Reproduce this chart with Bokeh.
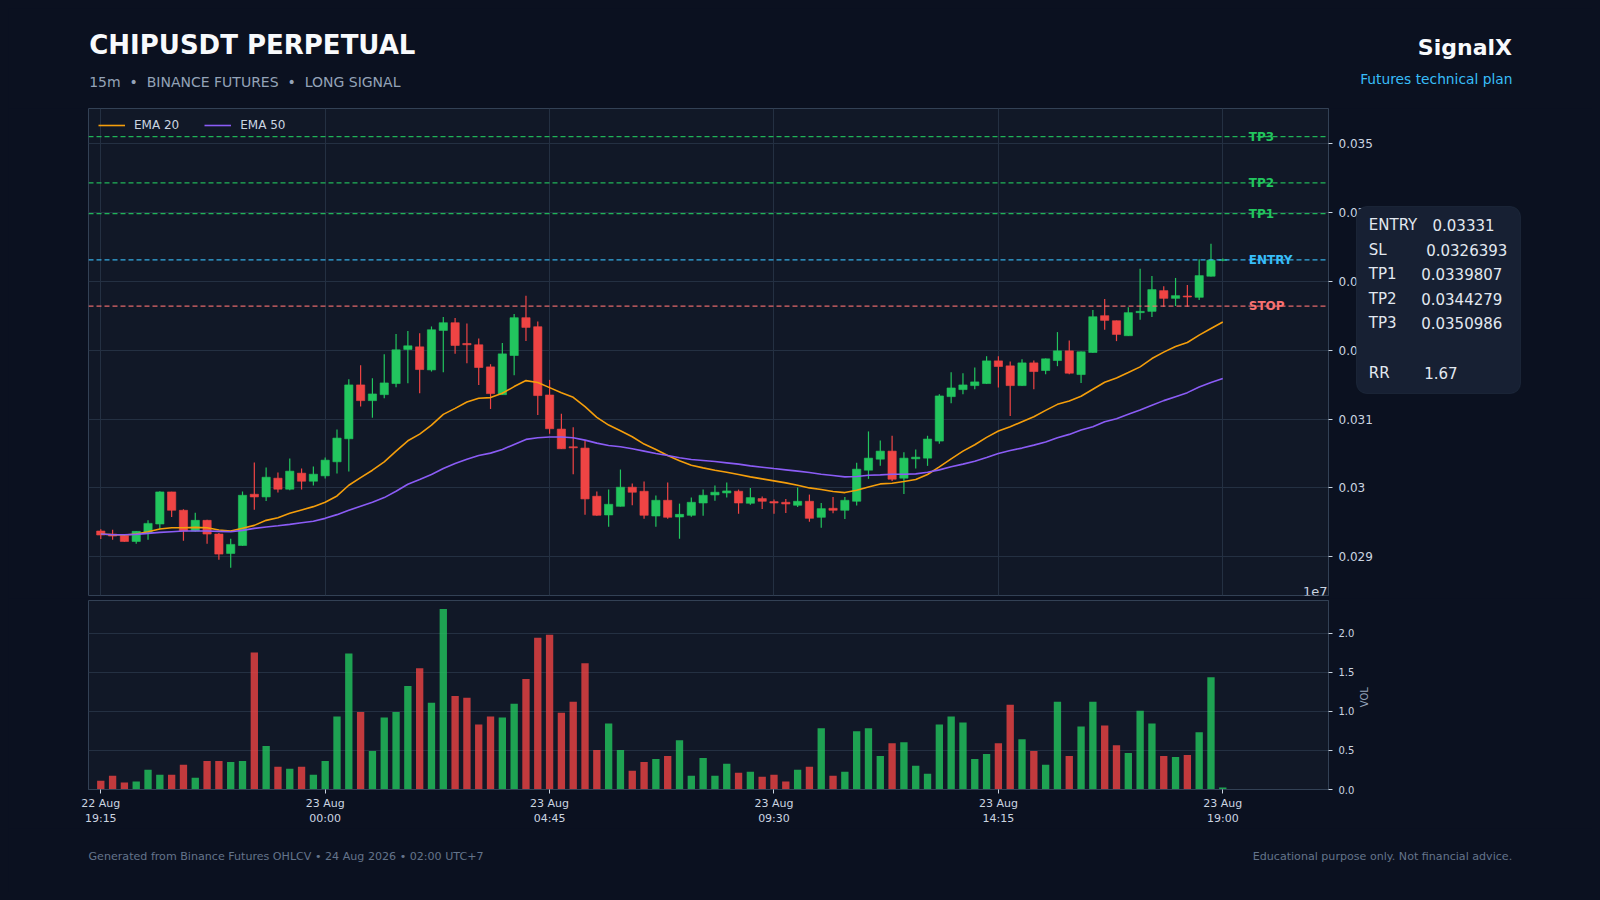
import math
from bokeh.plotting import figure
from bokeh.models import (Range1d, FixedTicker, NumeralTickFormatter, Span, Label,
                          BoxAnnotation, Grid, ColumnDataSource)
from bokeh.layouts import column, row
from bokeh.embed import file_html
from bokeh.resources import INLINE
from bokeh.core.properties import value

# ---------------- data ----------------
opens = [0.029374, 0.029330, 0.029306, 0.029223, 0.029350, 0.029476, 0.029942, 0.029675, 0.029374, 0.029529,
         0.029330, 0.029049, 0.029165, 0.029908, 0.029869, 0.030141, 0.029981, 0.030214, 0.030097, 0.030175,
         0.030379, 0.030713, 0.031495, 0.031267, 0.031354, 0.031515, 0.032010, 0.032048, 0.031713, 0.032286,
         0.032398, 0.032097, 0.032078, 0.031757, 0.031354, 0.031922, 0.032471, 0.032340, 0.031349, 0.030854,
         0.030597, 0.030578, 0.029879, 0.029607, 0.029733, 0.030010, 0.029951, 0.029592, 0.029820, 0.029578,
         0.029602, 0.029781, 0.029898, 0.029927, 0.029951, 0.029777, 0.029845, 0.029801, 0.029791, 0.029748,
         0.029806, 0.029573, 0.029704, 0.029675, 0.029806, 0.030257, 0.030417, 0.030534, 0.030141, 0.030422,
         0.030432, 0.030680, 0.031325, 0.031427, 0.031485, 0.031515, 0.031844, 0.031772, 0.031485, 0.031815,
         0.031704, 0.031849, 0.031990, 0.031645, 0.031966, 0.032500, 0.032427, 0.032209, 0.032544, 0.032563,
         0.032864, 0.032752, 0.032786, 0.032767, 0.033073, 0.033306]
highs = [0.029398, 0.029393, 0.029310, 0.029374, 0.029529, 0.029951, 0.029945, 0.029689, 0.029641, 0.029539,
         0.029345, 0.029262, 0.029947, 0.030369, 0.030296, 0.030223, 0.030427, 0.030282, 0.030311, 0.030442,
         0.030849, 0.031578, 0.031781, 0.031592, 0.031942, 0.032233, 0.032277, 0.032247, 0.032344, 0.032480,
         0.032466, 0.032388, 0.032170, 0.031796, 0.032102, 0.032524, 0.032791, 0.032417, 0.031568, 0.031078,
         0.030879, 0.030680, 0.029947, 0.029976, 0.030267, 0.030063, 0.030092, 0.029888, 0.030078, 0.029772,
         0.029859, 0.029976, 0.030034, 0.030078, 0.029976, 0.030000, 0.029874, 0.029830, 0.029840, 0.030005,
         0.029903, 0.029781, 0.029869, 0.029869, 0.030364, 0.030820, 0.030689, 0.030757, 0.030519, 0.030558,
         0.030757, 0.031359, 0.031680, 0.031665, 0.031747, 0.031912, 0.031912, 0.031835, 0.031869, 0.031849,
         0.031878, 0.032262, 0.032141, 0.031980, 0.032582, 0.032742, 0.032430, 0.032621, 0.033180, 0.033078,
         0.032927, 0.033048, 0.032946, 0.033320, 0.033543, 0.033330]
lows = [0.029257, 0.029248, 0.029220, 0.029189, 0.029248, 0.029403, 0.029578, 0.029233, 0.029364, 0.029189,
        0.028956, 0.028840, 0.029160, 0.029684, 0.029811, 0.029932, 0.029966, 0.029976, 0.030034, 0.030136,
        0.030209, 0.030238, 0.031180, 0.031019, 0.031301, 0.031461, 0.031519, 0.031374, 0.031689, 0.031680,
        0.031946, 0.031811, 0.031495, 0.031146, 0.031350, 0.031636, 0.032131, 0.031058, 0.030786, 0.030565,
        0.030199, 0.029612, 0.029597, 0.029437, 0.029730, 0.029748, 0.029553, 0.029437, 0.029553, 0.029262,
        0.029582, 0.029597, 0.029815, 0.029859, 0.029626, 0.029757, 0.029694, 0.029626, 0.029636, 0.029723,
        0.029510, 0.029422, 0.029631, 0.029549, 0.029743, 0.030131, 0.030320, 0.030102, 0.029913, 0.030281,
        0.030320, 0.030641, 0.031228, 0.031359, 0.031432, 0.031510, 0.031456, 0.031044, 0.031480, 0.031432,
        0.031650, 0.031767, 0.031650, 0.031524, 0.031962, 0.032296, 0.032131, 0.032205, 0.032442, 0.032480,
        0.032631, 0.032641, 0.032631, 0.032728, 0.033070, 0.033290]
closes = [0.029316, 0.029301, 0.029223, 0.029369, 0.029485, 0.029942, 0.029675, 0.029374, 0.029529, 0.029330,
          0.029039, 0.029180, 0.029893, 0.029869, 0.030155, 0.029981, 0.030243, 0.030097, 0.030199, 0.030403,
          0.030723, 0.031495, 0.031267, 0.031364, 0.031524, 0.032005, 0.032063, 0.031718, 0.032296, 0.032398,
          0.032068, 0.032078, 0.031748, 0.031369, 0.031946, 0.032471, 0.032330, 0.031340, 0.030859, 0.030568,
          0.030582, 0.029840, 0.029602, 0.029762, 0.030010, 0.029937, 0.029602, 0.029820, 0.029573, 0.029616,
          0.029791, 0.029893, 0.029937, 0.029956, 0.029781, 0.029859, 0.029806, 0.029781, 0.029767, 0.029806,
          0.029558, 0.029699, 0.029675, 0.029820, 0.030272, 0.030432, 0.030534, 0.030126, 0.030432, 0.030446,
          0.030709, 0.031335, 0.031451, 0.031495, 0.031539, 0.031844, 0.031762, 0.031485, 0.031815, 0.031689,
          0.031874, 0.031990, 0.031665, 0.031976, 0.032485, 0.032432, 0.032228, 0.032544, 0.032563, 0.032879,
          0.032752, 0.032791, 0.032772, 0.033082, 0.033306, 0.033310]
volume_1e7 = [0.113, 0.176, 0.088, 0.101, 0.252, 0.189, 0.189, 0.315, 0.151, 0.366,
              0.366, 0.353, 0.366, 1.752, 0.555, 0.290, 0.265, 0.290, 0.189, 0.366,
              0.933, 1.739, 0.992, 0.492, 0.920, 0.992, 1.324, 1.550, 1.109, 2.307,
              1.197, 1.172, 0.832, 0.933, 0.920, 1.097, 1.412, 1.941, 1.979, 0.983,
              1.122, 1.613, 0.504, 0.845, 0.504, 0.239, 0.353, 0.391, 0.429, 0.630,
              0.176, 0.403, 0.176, 0.328, 0.214, 0.227, 0.164, 0.189, 0.101, 0.252,
              0.290, 0.782, 0.176, 0.227, 0.744, 0.782, 0.429, 0.592, 0.605, 0.303,
              0.202, 0.832, 0.933, 0.857, 0.391, 0.454, 0.592, 1.084, 0.643, 0.492,
              0.315, 1.122, 0.429, 0.807, 1.122, 0.819, 0.567, 0.466, 1.008, 0.845,
              0.429, 0.416, 0.441, 0.731, 1.437, 0.025]
ema20 = [0.029330, 0.029320, 0.029316, 0.029330, 0.029364, 0.029403, 0.029422, 0.029422, 0.029427, 0.029422,
         0.029388, 0.029374, 0.029413, 0.029456, 0.029529, 0.029568, 0.029631, 0.029680, 0.029728, 0.029791,
         0.029883, 0.030039, 0.030150, 0.030257, 0.030379, 0.030534, 0.030684, 0.030781, 0.030912, 0.031068,
         0.031155, 0.031247, 0.031301, 0.031311, 0.031374, 0.031471, 0.031558, 0.031529, 0.031456, 0.031383,
         0.031315, 0.031179, 0.031024, 0.030912, 0.030830, 0.030743, 0.030636, 0.030558, 0.030471, 0.030393,
         0.030330, 0.030291, 0.030257, 0.030228, 0.030194, 0.030160, 0.030131, 0.030102, 0.030073, 0.030039,
         0.030000, 0.029976, 0.029947, 0.029932, 0.029966, 0.030014, 0.030058, 0.030068, 0.030092, 0.030121,
         0.030194, 0.030306, 0.030422, 0.030534, 0.030626, 0.030733, 0.030825, 0.030888, 0.030961, 0.031034,
         0.031126, 0.031213, 0.031262, 0.031330, 0.031432, 0.031534, 0.031597, 0.031675, 0.031757, 0.031878,
         0.031971, 0.032053, 0.032111, 0.032218, 0.032315, 0.032408]
ema50 = [0.029330, 0.029320, 0.029320, 0.029325, 0.029340, 0.029354, 0.029364, 0.029374, 0.029374, 0.029374,
         0.029369, 0.029364, 0.029383, 0.029413, 0.029432, 0.029451, 0.029471, 0.029495, 0.029515, 0.029558,
         0.029612, 0.029675, 0.029733, 0.029791, 0.029859, 0.029951, 0.030053, 0.030121, 0.030194, 0.030281,
         0.030354, 0.030417, 0.030471, 0.030505, 0.030558, 0.030631, 0.030704, 0.030728, 0.030738, 0.030738,
         0.030728, 0.030694, 0.030650, 0.030616, 0.030597, 0.030568, 0.030534, 0.030500, 0.030471, 0.030437,
         0.030413, 0.030398, 0.030383, 0.030364, 0.030345, 0.030320, 0.030301, 0.030281, 0.030262, 0.030243,
         0.030223, 0.030199, 0.030180, 0.030160, 0.030165, 0.030184, 0.030189, 0.030199, 0.030199, 0.030204,
         0.030228, 0.030262, 0.030306, 0.030345, 0.030388, 0.030442, 0.030500, 0.030544, 0.030578, 0.030621,
         0.030665, 0.030728, 0.030777, 0.030840, 0.030888, 0.030961, 0.031005, 0.031068, 0.031131, 0.031199,
         0.031267, 0.031325, 0.031383, 0.031466, 0.031529, 0.031587]

xtick_index = [0, 19, 38, 57, 76, 95]
xtick_labels = ["22 Aug\n19:15", "23 Aug\n00:00", "23 Aug\n04:45",
                "23 Aug\n09:30", "23 Aug\n14:15", "23 Aug\n19:00"]
price_ticks = [0.029, 0.030, 0.031, 0.032, 0.033, 0.034, 0.035]
volume_ticks = [0.0, 0.5, 1.0, 1.5, 2.0]

entry = 0.03331
stop_loss = 0.0326393
tp1 = 0.0339807
tp2 = 0.0344279
tp3 = 0.0350986
rr = 1.67
level_names = ["TP3", "TP2", "TP1", "ENTRY", "STOP"]
level_values = [tp3, tp2, tp1, entry, stop_loss]
info_names = ["ENTRY", "SL", "TP1", "TP2", "TP3", "RR"]
info_values = [str(entry), str(stop_loss), str(tp1), str(tp2), str(tp3), "%.2f" % rr]

title_text = "CHIPUSDT PERPETUAL"
subtitle_text = "15m \u00a0\u2022\u00a0 BINANCE FUTURES \u00a0\u2022\u00a0 LONG SIGNAL"
brand_text = "SignalX"
brand_sub = "Futures technical plan"
footer_left = "Generated from Binance Futures OHLCV \u2022 24 Aug 2026 \u2022 02:00 UTC+7"
footer_right = "Educational purpose only. Not financial advice."

# ---------------- styling ----------------
FONT = "DejaVu Sans"
BG = "#0b1120"
PLOT_BG = "#111827"
GRID = "#243042"
FRAME = "#334155"
TICK_TXT = "#cbd5e1"
GREEN = "#22c55e"
RED = "#ef4444"
EMA20_C = "#f59e0b"
EMA50_C = "#8b5cf6"
LEVEL_COLORS = [GREEN, GREEN, GREEN, "#38bdf8", "#f87171"]

W = 1584
FRAME_LEFT, FRAME_RIGHT = 80, 264


def canvas_fig(x0, x1, y0, y1, transparent=False):
    """A figure whose frame is its whole canvas, in page pixel coordinates."""
    f = figure(width=int(x1 - x0), height=int(y1 - y0),
               x_range=Range1d(x0, x1), y_range=Range1d(y1, y0),
               output_backend="svg", toolbar_location=None,
               x_axis_location=None, y_axis_location=None, min_border=0,
               outline_line_color=None, background_fill_color=BG, border_fill_color=BG)
    if transparent:
        f.background_fill_alpha = 0
        f.border_fill_alpha = 0
    for r in f.center:
        if isinstance(r, Grid):
            r.visible = False
    if hasattr(f, "frame_align"):
        f.frame_align = False
    return f


def put_text(fig, x, y, text, size, color, bold=False, align="left", angle=0.0):
    fig.text(x=[x], y=[y], text=[text], text_font=value(FONT), text_font_size=size,
             text_color=color, text_font_style="bold" if bold else "normal",
             text_align=align, text_baseline="middle", angle=angle)


x = list(range(len(opens)))
colors = [GREEN if c >= o else RED for o, c in zip(opens, closes)]
src = ColumnDataSource(dict(
    x=x, low=lows, high=highs,
    top=[max(o, c) for o, c in zip(opens, closes)],
    bottom=[min(o, c) for o, c in zip(opens, closes)],
    color=colors, vol=volume_1e7))

xr = Range1d(-1.04, 103.95)

# ---------------- header (page y 8..108) ----------------
hdr = canvas_fig(8, 1592, 8, 108)
put_text(hdr, 88.7, 44.2, title_text, "26px", "#f8fafc", bold=True)
put_text(hdr, 88.7, 81, subtitle_text, "14px", "#94a3b8")
put_text(hdr, 1511.5, 47, brand_text, "22px", "#f8fafc", bold=True, align="right")
put_text(hdr, 1512, 78.6, brand_sub, "13.8px", "#38bdf8", align="right")

# ---------------- price figure (page y 108..598) ----------------
p = figure(width=W, height=490, x_range=xr, y_range=Range1d(0.028438, 0.035508),
           output_backend="svg", toolbar_location=None,
           x_axis_location=None, y_axis_location="right",
           min_border_left=FRAME_LEFT, min_border_right=FRAME_RIGHT,
           min_border_top=0, min_border_bottom=3,
           background_fill_color=PLOT_BG, border_fill_color=BG,
           outline_line_color=FRAME, outline_line_width=1)

ya = p.yaxis[0]
ya.ticker = FixedTicker(ticks=price_ticks)
ya.formatter = NumeralTickFormatter(format="0.[000]")
ya.major_label_text_font = FONT
ya.major_label_text_font_size = "12px"
ya.major_label_text_color = TICK_TXT
ya.major_tick_out = 4
ya.major_tick_in = 0
ya.minor_tick_out = 0
ya.minor_tick_in = 0
ya.major_tick_line_color = TICK_TXT
ya.axis_line_color = FRAME
ya.major_label_standoff = 6

found_xgrid = False
for r in p.center:
    if isinstance(r, Grid):
        r.grid_line_color = GRID
        if r.dimension == 0:
            r.ticker = FixedTicker(ticks=xtick_index)
            found_xgrid = True
if not found_xgrid:
    p.add_layout(Grid(dimension=0, ticker=FixedTicker(ticks=xtick_index), grid_line_color=GRID))

p.segment(x0="x", y0="low", x1="x", y1="high", line_color="color", line_width=1.2, source=src)
p.vbar(x="x", width=0.7, top="top", bottom="bottom", fill_color="color",
       line_color="color", line_width=0.6, source=src)
p.line(x, ema20, line_color=EMA20_C, line_width=1.6, legend_label="EMA 20")
p.line(x, ema50, line_color=EMA50_C, line_width=1.6, legend_label="EMA 50")

p.text(x=[97.2] * len(level_values), y=level_values, text=level_names, text_color=LEVEL_COLORS,
       text_font=value(FONT), text_font_style="bold", text_font_size="12px",
       text_baseline="middle", text_align="left")
for lv, col in zip(level_values, LEVEL_COLORS):
    p.add_layout(Span(location=lv, dimension="width", line_color=col, line_dash="5 3",
                      line_width=1.3, line_alpha=0.9))

lg = p.legend[0]
lg.location = "top_left"
lg.orientation = "horizontal"
lg.background_fill_alpha = 0
lg.border_line_alpha = 0
lg.margin = 6
lg.padding = 4
lg.spacing = 25
lg.glyph_width = 27
lg.glyph_height = 12
lg.label_height = 12
lg.label_standoff = 9
lg.label_text_font = FONT
lg.label_text_font_size = "12px"
lg.label_text_color = TICK_TXT

p.add_layout(Label(x=1239, y=4.5, x_units="screen", y_units="screen", text="1e7",
                   text_font=FONT, text_font_size="13px", text_color=TICK_TXT,
                   text_align="right", text_baseline="middle"))

# ---------------- volume figure (page y 598..828) ----------------
v = figure(width=W, height=230, x_range=xr, y_range=Range1d(0, 2.417),
           output_backend="svg", toolbar_location=None, y_axis_location="right",
           min_border_left=FRAME_LEFT, min_border_right=FRAME_RIGHT,
           min_border_top=2, min_border_bottom=36,
           background_fill_color=PLOT_BG, border_fill_color=BG,
           outline_line_color=FRAME, outline_line_width=1)
v.vbar(x="x", width=0.62, top="vol", bottom=0, fill_color="color", fill_alpha=0.8,
       line_color=None, source=src)

xa = v.xaxis[0]
xa.ticker = FixedTicker(ticks=xtick_index)
xa.major_label_overrides = {i: t for i, t in zip(xtick_index, xtick_labels)}
xa.major_label_text_font = FONT
xa.major_label_text_font_size = "11px"
xa.major_label_text_color = TICK_TXT
xa.major_tick_out = 4
xa.major_tick_in = 0
xa.minor_tick_out = 0
xa.minor_tick_in = 0
xa.major_tick_line_color = TICK_TXT
xa.axis_line_color = FRAME
xa.major_label_standoff = 3

va = v.yaxis[0]
va.ticker = FixedTicker(ticks=volume_ticks)
va.formatter = NumeralTickFormatter(format="0.0")
va.major_label_text_font = FONT
va.major_label_text_font_size = "10px"
va.major_label_text_color = TICK_TXT
va.major_tick_out = 4
va.major_tick_in = 0
va.minor_tick_out = 0
va.minor_tick_in = 0
va.major_tick_line_color = TICK_TXT
va.axis_line_color = FRAME
va.major_label_standoff = 6
for r in v.center:
    if isinstance(r, Grid):
        if r.dimension == 0:
            r.visible = False
        else:
            r.grid_line_color = GRID

# ---------------- footer (page y 828..892) ----------------
ftr = canvas_fig(8, 1592, 828, 892)
put_text(ftr, 88, 856, footer_left, "11.1px", "#64748b")
put_text(ftr, 1511.7, 856, footer_right, "11.1px", "#64748b", align="right")

# ---------------- overlay: info box + VOL label (page x 1350..1530, y 200..720) ----------------
ov = canvas_fig(1350, 1530, 200, 720, transparent=True)
ov.add_layout(BoxAnnotation(left=1356, right=1520, top=206, bottom=393, level="underlay",
                            fill_color="#172033", fill_alpha=1.0,
                            line_color=FRAME, line_width=1, border_radius=10))
info_y = [224.3, 249.3, 273.7, 298.7, 322.7, 372.3]
info_vx = [1432, 1425.7, 1420.7, 1420.7, 1420.7, 1423.7]
for name, val, yy, vx in zip(info_names, info_values, info_y, info_vx):
    put_text(ov, 1368.3, yy, name, "15px", "#e2e8f0")
    put_text(ov, vx, yy, val, "15px", "#e2e8f0")
put_text(ov, 1364, 696.7, "VOL", "10px", "#94a3b8", align="center", angle=math.pi / 2)

# each text strip sits in its own row, so only the two chart panels share frame alignment
charts = column(p, v, spacing=0)
hdr_row = row(hdr)
ftr_row = row(ftr)
ov_row = row(ov)
# pull the overlay back up over the chart: it would start after the footer (page y 892)
ov_row.margin = (200 - 892, 0, 892 - 720, 1350 - 8)

layout = column(hdr_row, charts, ftr_row, ov_row, spacing=0)
html = file_html(layout, INLINE, title="CHIPUSDT PERPETUAL")
css = ("<style>html,body{margin:0 !important;padding:0 !important;background:%s !important;"
       "overflow:hidden !important;height:auto !important;}"
       "body{padding:8px !important;}</style>" % BG)
html = html.replace("</head>", css + "</head>", 1)
open("out.html", "w").write(html)
